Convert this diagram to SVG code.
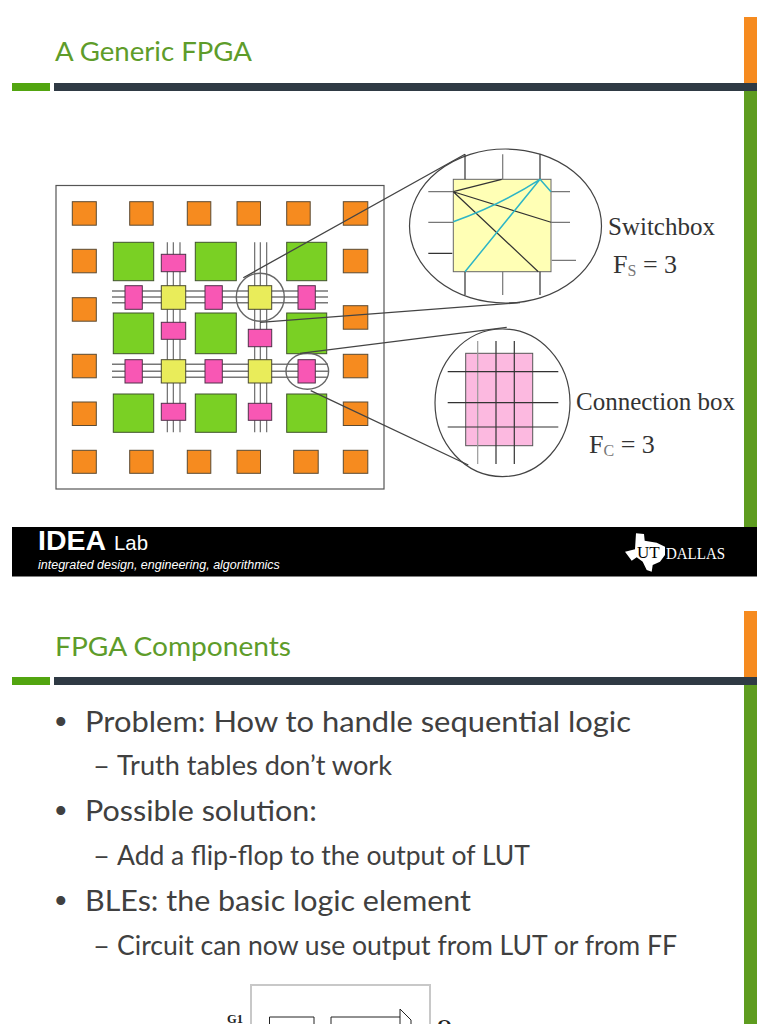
<svg xmlns="http://www.w3.org/2000/svg" width="768" height="1024" viewBox="0 0 768 1024">
<style>
.org{fill:#F68B1F;stroke:#5b4a33;stroke-width:1}
.grn{fill:#7AD024;stroke:#40532c;stroke-width:1}
.ylw{fill:#E9EC5A;stroke:#4a4a30;stroke-width:1}
.pnk{fill:#F857B4;stroke:#50324a;stroke-width:1}
.trk{stroke:#5f5f5f;stroke-width:1.100;fill:none}
.trh{stroke:#777;stroke-width:1.500;fill:none}
.lnk{stroke:#444;stroke-width:1.300;fill:none}
.ring{fill:none;stroke:#666;stroke-width:1.400}
.blk{fill:none;stroke:#333;stroke-width:1.200}
.gry{fill:none;stroke:#777;stroke-width:1.200}
.cyn{fill:none;stroke:#2DB5C6;stroke-width:1.500}
.ttl{font-family:Lato,"Liberation Sans",sans-serif;font-size:27.500px;fill:#5E9C2A}
.b1{font-family:Lato,"Liberation Sans",sans-serif;font-size:29.500px;fill:#404040}
.b2{font-family:Lato,"Liberation Sans",sans-serif;font-size:26px;fill:#404040}
.dot{font-family:"Liberation Sans",sans-serif;font-size:33px;fill:#404040}
.srf{font-family:"Liberation Serif",serif;font-size:25px;fill:#333}
.fx{font-family:"Liberation Serif",serif;font-size:26px;fill:#333}
.sub{font-family:"Liberation Serif",serif;font-size:16px;fill:#777}
.wht{font-family:"Liberation Sans",sans-serif;fill:#fff}
</style>
<rect width="768" height="1024" fill="#fff"/>
<g id="slide1-chrome">
<rect x="744" y="17" width="13" height="66" fill="#F68B1F"/>
<rect x="744" y="91" width="13" height="436" fill="#5E9C20"/>
<rect x="12" y="83" width="38" height="8" fill="#52A510"/>
<rect x="54" y="83" width="703" height="8" fill="#2F3A44"/>
<text class="ttl" x="55" y="61" textLength="197" lengthAdjust="spacingAndGlyphs">A Generic FPGA</text>
</g>
<g id="fpga-frame"><rect x="56" y="185.500" width="328" height="303.500" fill="#fff" stroke="#555" stroke-width="1.200"/></g>
<g id="tracks">
<path class="trk" d="M167.300 242.300V432.300M173.300 242.300V432.300M180 242.300V432.300M254.700 242.300V432.300M260.300 242.300V432.300M266.700 242.300V432.300"/>
<path class="trh" d="M112 291H328M112 297H328M112 302.700H328M112 364.300H328M112 371.300H328M112 377.300H328"/>
</g>
<g id="io-pads">
<rect class="org" x="72.300" y="201.700" width="24" height="23.500"/>
<rect class="org" x="129.700" y="201.700" width="23.500" height="23.500"/>
<rect class="org" x="187.300" y="201.700" width="23.500" height="23.500"/>
<rect class="org" x="237" y="201.700" width="23.500" height="23.500"/>
<rect class="org" x="286.700" y="201.700" width="23.500" height="23.500"/>
<rect class="org" x="343.300" y="201.700" width="24.500" height="23.500"/>
<rect class="org" x="72.300" y="249.300" width="24" height="23.500"/>
<rect class="org" x="72.300" y="297.700" width="24" height="23.500"/>
<rect class="org" x="72.300" y="354.300" width="24" height="23.500"/>
<rect class="org" x="72.300" y="402" width="24" height="23.500"/>
<rect class="org" x="343.300" y="249.300" width="24.500" height="23.500"/>
<rect class="org" x="343.300" y="305.700" width="24.500" height="23.500"/>
<rect class="org" x="343.300" y="354.300" width="24.500" height="23.500"/>
<rect class="org" x="343.300" y="402" width="24.500" height="23.500"/>
<rect class="org" x="72.300" y="450.300" width="24" height="23"/>
<rect class="org" x="129.700" y="450.300" width="23.500" height="23"/>
<rect class="org" x="187.300" y="450.300" width="23.500" height="23"/>
<rect class="org" x="237" y="450.300" width="23.500" height="23"/>
<rect class="org" x="293.700" y="450.300" width="24.500" height="23"/>
<rect class="org" x="343.300" y="450.300" width="24.500" height="23"/>
</g>
<g id="logic-blocks">
<rect class="grn" x="113.300" y="242.300" width="40.400" height="38.400"/>
<rect class="grn" x="195.300" y="242.300" width="41" height="38.400"/>
<rect class="grn" x="286.700" y="242.300" width="40" height="38.400"/>
<rect class="grn" x="113.300" y="313" width="40.400" height="40.700"/>
<rect class="grn" x="195.300" y="313" width="41" height="40.700"/>
<rect class="grn" x="286.700" y="313" width="40" height="40.700"/>
<rect class="grn" x="113.300" y="394" width="40.400" height="38.300"/>
<rect class="grn" x="195.300" y="394" width="41" height="38.300"/>
<rect class="grn" x="286.700" y="394" width="40" height="38.300"/>
</g>
<g id="switch-boxes">
<rect class="ylw" x="161.300" y="285.700" width="24.400" height="23.600"/>
<rect class="ylw" x="248.300" y="285.700" width="23.400" height="23.600"/>
<rect class="ylw" x="161.300" y="359.700" width="24.400" height="23.300"/>
<rect class="ylw" x="248.300" y="359.700" width="23.400" height="23.300"/>
</g>
<g id="connection-boxes">
<rect class="pnk" x="161.300" y="254.300" width="24.400" height="17.400"/>
<rect class="pnk" x="161.300" y="322.300" width="24.400" height="17"/>
<rect class="pnk" x="248.300" y="329.300" width="23.400" height="17.400"/>
<rect class="pnk" x="161.300" y="403.300" width="24.400" height="17"/>
<rect class="pnk" x="248.300" y="403.300" width="23.400" height="17"/>
<rect class="pnk" x="125" y="285.700" width="17.300" height="23.600"/>
<rect class="pnk" x="205" y="285.700" width="17.300" height="23.600"/>
<rect class="pnk" x="298" y="285.700" width="17.300" height="23.600"/>
<rect class="pnk" x="125" y="359.700" width="17.300" height="23.300"/>
<rect class="pnk" x="205" y="359.700" width="17.300" height="23.300"/>
<rect class="pnk" x="298" y="359.700" width="17.300" height="23.300"/>
</g>
<g id="connectors">
<ellipse class="ring" cx="260.300" cy="297.200" rx="24" ry="24"/>
<ellipse class="ring" cx="307.300" cy="371.300" rx="21.300" ry="18"/>
<path class="lnk" d="M243.300 277.700L465 154.300M260 322.300L520 302.700M300 353.300L506.700 327.300M310.700 390.700L468.300 465"/>
</g>
<g id="switchbox-detail">
<ellipse cx="505.500" cy="226" rx="96" ry="77" fill="none" stroke="#444" stroke-width="1.200"/>
<rect x="453.300" y="179.300" width="97.700" height="92.400" fill="#FFFFB5" stroke="#666" stroke-width="1"/>
<path class="gry" d="M428.300 191.700H453.300M428.300 222.300H453.300M551 191.700H570M551 222.300H570M551.700 260.300H576M502.700 154.300V179.300M502.700 271.700V295"/>
<path class="blk" d="M428.300 253.300H452.300M465 154.300V179.300M540 154.300V179.300M465 271.700V295M540 271.700V295"/>
<path class="blk" d="M453.300 191.700L501.700 179.300M453.300 191.700L551 222.300M453.300 191.700L538.300 271.700"/>
<path class="cyn" d="M453.300 221.700Q500 205 540 179.300L551 191.700M465 271.700L540 179.300"/>
<text class="srf" x="608" y="235">Switchbox</text>
<text class="fx" x="613" y="273">F<tspan class="sub" dy="3">S</tspan><tspan dy="-3"> = 3</tspan></text>
</g>
<g id="connection-box-detail">
<ellipse cx="502.500" cy="402.800" rx="67.500" ry="73.800" fill="none" stroke="#444" stroke-width="1.200"/>
<rect x="465.700" y="353.300" width="67" height="92.400" fill="#FCB9E0" stroke="#555" stroke-width="1"/>
<path d="M477.700 341V464" fill="none" stroke="#999" stroke-width="1.200"/>
<path class="blk" d="M496 341V464M514.300 341V464"/>
<path class="blk" d="M447.700 371.700H558.300M447.700 402.700H558.300M447.700 427H558.300"/>
<text class="srf" x="576" y="409.500">Connection box</text>
<text class="fx" x="589" y="453">F<tspan class="sub" dy="3">C</tspan><tspan dy="-3"> = 3</tspan></text>
</g>
<g id="footer">
<rect x="12" y="527" width="745" height="49.500" fill="#000"/>
<text class="wht" x="38" y="550" font-size="27" font-weight="700" textLength="68" lengthAdjust="spacingAndGlyphs">IDEA</text>
<text class="wht" x="114" y="550" font-size="21" textLength="34" lengthAdjust="spacingAndGlyphs">Lab</text>
<text class="wht" x="38" y="569" font-size="12.500" font-style="italic">integrated design, engineering, algorithmics</text>
<polygon fill="#fff" points="636,533.300 644,534 644.700,540.700 656.700,542.700 665,546.700 665,555 660,561.700 652.700,565 651.700,571.700 646.700,570 642.700,561.700 636.700,557.300 631.700,560.700 625,551.700 635,549.300"/>
<text x="637" y="558" font-family="Liberation Serif,serif" font-size="17" fill="#000">UT</text>
<text x="666" y="558.500" font-family="Liberation Serif,serif" font-size="16" fill="#fff" textLength="59" lengthAdjust="spacingAndGlyphs">DALLAS</text>
</g>
<g id="slide2-chrome">
<rect x="744" y="611" width="13" height="66" fill="#F68B1F"/>
<rect x="744" y="685" width="13" height="339" fill="#5E9C20"/>
<rect x="12" y="677" width="38" height="8" fill="#52A510"/>
<rect x="54" y="677" width="703" height="8" fill="#2F3A44"/>
<text class="ttl" x="55" y="656" textLength="236" lengthAdjust="spacingAndGlyphs">FPGA Components</text>
</g>
<g id="bullets">
<text class="dot" x="55" y="733">•</text><text class="b1" x="85" y="732" textLength="546" lengthAdjust="spacingAndGlyphs">Problem: How to handle sequential logic</text>
<text class="b2" x="93" y="775" textLength="17" lengthAdjust="spacingAndGlyphs">–</text><text class="b2" x="117" y="775" textLength="275" lengthAdjust="spacingAndGlyphs">Truth tables don’t work</text>
<text class="dot" x="55" y="822">•</text><text class="b1" x="85" y="821" textLength="232" lengthAdjust="spacingAndGlyphs">Possible solution:</text>
<text class="b2" x="93" y="865" textLength="17" lengthAdjust="spacingAndGlyphs">–</text><text class="b2" x="117" y="865" textLength="413" lengthAdjust="spacingAndGlyphs">Add a flip-flop to the output of LUT</text>
<text class="dot" x="55" y="912">•</text><text class="b1" x="85" y="911" textLength="386" lengthAdjust="spacingAndGlyphs">BLEs: the basic logic element</text>
<text class="b2" x="93" y="955" textLength="17" lengthAdjust="spacingAndGlyphs">–</text><text class="b2" x="117" y="955" textLength="560" lengthAdjust="spacingAndGlyphs">Circuit can now use output from LUT or from FF</text>
</g>
<g id="ble-diagram">
<path d="M251 1024V985H430V1024" fill="none" stroke="#c8c8c8" stroke-width="2"/>
<path d="M269.500 1024V1017H314V1024M331 1024V1017H400M400 1024V1009L411 1020V1024" fill="none" stroke="#222" stroke-width="1"/>
<text x="227" y="1023" font-family="Liberation Serif,serif" font-size="11.500" font-weight="700" fill="#222" textLength="16" lengthAdjust="spacingAndGlyphs">G1</text>
<text x="437" y="1033" font-family="Liberation Serif,serif" font-size="19" font-weight="700" fill="#222">Q</text>
</g>
</svg>
